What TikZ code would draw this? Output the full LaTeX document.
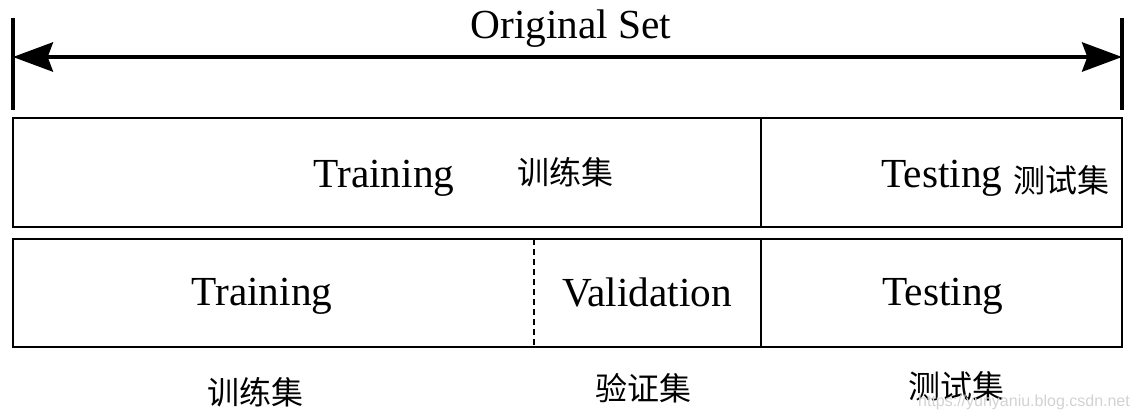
\documentclass[tikz,border=0pt]{standalone}
\usepackage{fontspec}
\setmainfont{Liberation Serif}
\newfontfamily\cjk{Noto Sans CJK SC}
\newfontfamily\wmfont{Liberation Sans}
\usepackage{tikz}
\usetikzlibrary{arrows.meta}

\begin{document}
\begin{tikzpicture}[x=0.75pt,y=-0.75pt,
	en/.style={font=\fontsize{31}{36}\selectfont, inner sep=0pt, anchor=base},
	cn/.style={font=\cjk\fontsize{24}{28}\selectfont, inner sep=0pt},
	box/.style={draw, line width=2.2pt},
	tick/.style={line width=2.6pt},
	span/.style={line width=2.6pt, {Stealth[length=30pt,width=22pt,inset=4pt]}-{Stealth[length=30pt,width=22pt,inset=4pt]}}]
	\useasboundingbox (0,0) rectangle (1140,418);
	% whole set
	\coordinate (left) at (13,57);
	\coordinate (right) at (1122,57);
	\draw[tick] (13,18) -- (13,110);
	\draw[tick] (1122,18) -- (1122,110);
	\draw[span] (left) -- (right);
	\node[en] (orig) at (571,38) {Original Set};
	% train / test
	\draw[box] (13,118) rectangle (1122,227);
	\draw[box] (761,118) -- (761,227);
	\node[en] (train1) at (384,187) {Training};
	\node[cn] (train1cn) at (565,172) {训练集};
	\node[en] (test1) at (942,187) {Testing};
	\node[cn] (test1cn) at (1061,180) {测试集};
	% train / validation / test
	\draw[box] (13,239) rectangle (1122,347);
	\draw[box] (761,239) -- (761,347);
	\draw[box, dash pattern=on 4.5pt off 3pt] (534,239) -- (534,347);
	\node[en] (train2) at (262,305) {Training};
	\node[en] (valid2) at (647,306) {Validation};
	\node[en] (test2) at (943,305) {Testing};
	\node[cn] (train2cn) at (255,392) {训练集};
	\node[cn] (valid2cn) at (643,388) {验证集};
	\node[cn] (test2cn) at (956,386) {测试集};
	\node[font=\wmfont\fontsize{12}{14}\selectfont, text=gray!35, inner sep=0pt] (mark) at (1024,402) {https://yunyaniu.blog.csdn.net};
\end{tikzpicture}
\end{document}
